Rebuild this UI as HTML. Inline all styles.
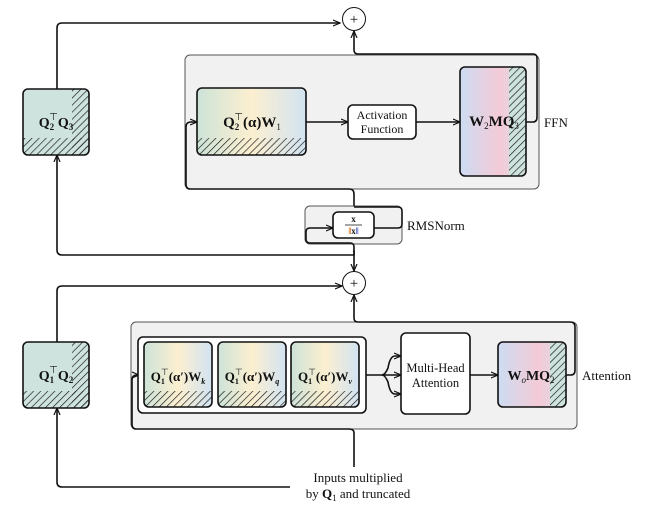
<!DOCTYPE html>
<html><head><meta charset="utf-8"><style>
html,body{margin:0;padding:0;background:#fff;}
svg{display:block;}
text{font-family:"Liberation Serif",serif;fill:#111;}
.b{font-weight:bold;}
</style></head><body>
<svg width="646" height="506" viewBox="0 0 646 506" xmlns="http://www.w3.org/2000/svg">
<defs>
<pattern id="h" patternUnits="userSpaceOnUse" width="5" height="5" patternTransform="rotate(45)">
<rect width="5" height="5" fill="none"/><line x1="0" y1="0" x2="0" y2="5" stroke="#111" stroke-width="1.3"/>
</pattern>
<linearGradient id="g1" x1="0" x2="1" y1="0" y2="0">
<stop offset="0" stop-color="#cde3d8"/><stop offset="0.5" stop-color="#fcefd0"/><stop offset="1" stop-color="#d2e3f2"/>
</linearGradient>
<linearGradient id="g2" x1="0" x2="1" y1="0" y2="0">
<stop offset="0" stop-color="#cddcf2"/><stop offset="0.6" stop-color="#f4cad6"/><stop offset="1" stop-color="#d7dfe6"/>
</linearGradient>
<marker id="a" markerWidth="8" markerHeight="8" refX="7" refY="4" orient="auto" markerUnits="userSpaceOnUse">
<path d="M0,1 L7,4 L0,7" fill="none" stroke="#111" stroke-width="1.2"/>
</marker>
<clipPath id="c1"><rect x="23" y="89" width="66" height="66" rx="5"/></clipPath>
<clipPath id="c2"><rect x="23" y="342" width="66" height="66" rx="5"/></clipPath>
<clipPath id="c3"><rect x="197" y="88" width="109" height="67" rx="5"/></clipPath>
<clipPath id="c4"><rect x="460" y="67" width="66" height="109" rx="5"/></clipPath>
<clipPath id="c5"><rect x="498" y="342" width="68" height="65" rx="5"/></clipPath>
<clipPath id="k1"><rect x="144" y="342" width="68" height="65" rx="5"/></clipPath>
<clipPath id="k2"><rect x="218" y="342" width="68" height="65" rx="5"/></clipPath>
<clipPath id="k3"><rect x="291" y="342" width="68" height="65" rx="5"/></clipPath>
</defs>

<rect x="185" y="55" width="354" height="134" rx="5" fill="#f1f1f1" stroke="#555" stroke-width="1"/>
<rect x="305" y="206" width="97" height="38" rx="5" fill="#f1f1f1" stroke="#555" stroke-width="1"/>
<rect x="131" y="322" width="446" height="107" rx="5" fill="#f1f1f1" stroke="#555" stroke-width="1"/>

<g fill="none" stroke="#111" stroke-width="1.6" stroke-linejoin="round">
<path d="M57,89 V28 Q57,23 62,23 H340" marker-end="url(#a)"/>
<path d="M526,122 H533 Q537,122 537,117 V58 Q537,54 533,54 H358 Q354,54 354,50 V31" marker-end="url(#a)"/>
<path d="M354,206 V194 Q354,189 349,189 H190 Q186,189 186,184 V127 Q186,122 191,122 H197" marker-end="url(#a)"/>
<path d="M354,255 V247 Q354,243 350,243 H310 Q306,243 306,239 V232 Q306,228 310,228 H333" marker-end="url(#a)"/>
<path d="M374,228 H398 Q402,228 402,224 V211 Q402,207 398,207 H354"/>
<path d="M354,250 V255 H62 Q57,255 57,250 V155" marker-end="url(#a)"/>
<path d="M354,255 V271" marker-end="url(#a)"/>
<path d="M57,342 V291 Q57,286 62,286 H342" marker-end="url(#a)"/>
<path d="M566,375 H571 Q575,375 575,370 V327 Q575,322 570,322 H358 Q354,322 354,318 V295" marker-end="url(#a)"/>
<path d="M354,467 V433 Q354,429 349,429 H136 Q132,429 132,424 V380 Q132,375 137,375 H139" marker-end="url(#a)"/>
<path d="M290,487 H62 Q57,487 57,482 V408" marker-end="url(#a)"/>
<path d="M306,122 H348" marker-end="url(#a)"/>
<path d="M416,122 H460" marker-end="url(#a)"/>
<path d="M366,375 H401" marker-end="url(#a)"/>
<path d="M382,375 Q385,375 388,368 Q390,356 395,356 H401" marker-end="url(#a)"/>
<path d="M382,375 Q385,375 388,382 Q390,394 395,394 H401" marker-end="url(#a)"/>
<path d="M470,375 H498" marker-end="url(#a)"/>
</g>

<circle cx="354" cy="19" r="11.5" fill="#fff" stroke="#111" stroke-width="1"/>
<text x="354" y="24" font-size="15" text-anchor="middle">+</text>
<circle cx="354" cy="283" r="11.5" fill="#fff" stroke="#111" stroke-width="1"/>
<text x="354" y="288" font-size="15" text-anchor="middle">+</text>

<g clip-path="url(#c1)">
<rect x="23" y="89" width="66" height="66" fill="#cfe3de"/>
<rect x="72" y="89" width="17" height="66" fill="url(#h)"/>
<rect x="23" y="138" width="66" height="17" fill="url(#h)"/>
</g>
<rect x="23" y="89" width="66" height="66" rx="5" fill="none" stroke="#111" stroke-width="1.6"/>
<text x="56" y="127" font-size="14" text-anchor="middle" class="b">Q<tspan font-size="9" dy="3">2</tspan><tspan font-size="10" dx="-5" dy="-10" font-weight="normal">⊤</tspan><tspan dy="7">Q</tspan><tspan font-size="9" dy="3">3</tspan></text>

<g clip-path="url(#c2)">
<rect x="23" y="342" width="66" height="66" fill="#cfe3de"/>
<rect x="72" y="342" width="17" height="66" fill="url(#h)"/>
<rect x="23" y="391" width="66" height="17" fill="url(#h)"/>
</g>
<rect x="23" y="342" width="66" height="66" rx="5" fill="none" stroke="#111" stroke-width="1.6"/>
<text x="56" y="380" font-size="14" text-anchor="middle" class="b">Q<tspan font-size="9" dy="3">1</tspan><tspan font-size="10" dx="-5" dy="-10" font-weight="normal">⊤</tspan><tspan dy="7">Q</tspan><tspan font-size="9" dy="3">2</tspan></text>

<g clip-path="url(#c3)">
<rect x="197" y="88" width="109" height="67" fill="url(#g1)"/>
<rect x="197" y="138" width="109" height="17" fill="url(#h)"/>
</g>
<rect x="197" y="88" width="109" height="67" rx="5" fill="none" stroke="#111" stroke-width="1.6"/>
<text x="252" y="127" font-size="15" text-anchor="middle" class="b">Q<tspan font-size="9" dy="3">2</tspan><tspan font-size="10" dx="-5" dy="-10" font-weight="normal">⊤</tspan><tspan dy="7">(α)W</tspan><tspan font-size="9" dy="3" font-weight="normal">1</tspan></text>

<rect x="348" y="105" width="68" height="34" rx="5" fill="#fff" stroke="#111" stroke-width="1.6"/>
<text x="382" y="119" font-size="12" text-anchor="middle">Activation</text>
<text x="382" y="133" font-size="12" text-anchor="middle">Function</text>

<g clip-path="url(#c4)">
<rect x="460" y="67" width="66" height="109" fill="url(#g2)"/>
<rect x="509" y="67" width="17" height="109" fill="#cfe3de"/>
<rect x="509" y="67" width="17" height="109" fill="url(#h)"/>
</g>
<rect x="460" y="67" width="66" height="109" rx="5" fill="none" stroke="#111" stroke-width="1.6"/>
<text x="494" y="126" font-size="15" text-anchor="middle" class="b">W<tspan font-size="9" dy="3" font-weight="normal">2</tspan><tspan dy="-3">MQ</tspan><tspan font-size="9" dy="3" font-weight="normal">3</tspan></text>
<text x="544" y="127" font-size="13">FFN</text>

<rect x="333" y="212" width="41" height="26" rx="5" fill="#fff" stroke="#111" stroke-width="1.6"/>
<text x="353.5" y="222" font-size="9" text-anchor="middle" class="b">x</text>
<line x1="345" y1="225" x2="362" y2="225" stroke="#111" stroke-width="0.8"/>
<text x="353.5" y="234" font-size="9" text-anchor="middle" class="b"><tspan fill="#d07020">‖</tspan>x<tspan fill="#4050c0">‖</tspan></text>
<text x="407" y="230" font-size="13">RMSNorm</text>

<rect x="138" y="337" width="228" height="76" rx="5" fill="#fff" stroke="#111" stroke-width="1.6"/>
<g clip-path="url(#k1)"><rect x="144" y="342" width="68" height="65" fill="url(#g1)"/><rect x="144" y="391" width="68" height="16" fill="url(#h)"/></g>
<rect x="144" y="342" width="68" height="65" rx="5" fill="none" stroke="#111" stroke-width="1.6"/>
<g clip-path="url(#k2)"><rect x="218" y="342" width="68" height="65" fill="url(#g1)"/><rect x="218" y="391" width="68" height="16" fill="url(#h)"/></g>
<rect x="218" y="342" width="68" height="65" rx="5" fill="none" stroke="#111" stroke-width="1.6"/>
<g clip-path="url(#k3)"><rect x="291" y="342" width="68" height="65" fill="url(#g1)"/><rect x="291" y="391" width="68" height="16" fill="url(#h)"/></g>
<rect x="291" y="342" width="68" height="65" rx="5" fill="none" stroke="#111" stroke-width="1.6"/>
<text x="178" y="381" font-size="13" text-anchor="middle" class="b">Q<tspan font-size="8" dy="3">1</tspan><tspan font-size="9" dx="-4" dy="-9" font-weight="normal">⊤</tspan><tspan dy="6">(α′)W</tspan><tspan font-size="8" dy="3" font-style="italic">k</tspan></text>
<text x="252" y="381" font-size="13" text-anchor="middle" class="b">Q<tspan font-size="8" dy="3">1</tspan><tspan font-size="9" dx="-4" dy="-9" font-weight="normal">⊤</tspan><tspan dy="6">(α′)W</tspan><tspan font-size="8" dy="3" font-style="italic">q</tspan></text>
<text x="325" y="381" font-size="13" text-anchor="middle" class="b">Q<tspan font-size="8" dy="3">1</tspan><tspan font-size="9" dx="-4" dy="-9" font-weight="normal">⊤</tspan><tspan dy="6">(α′)W</tspan><tspan font-size="8" dy="3" font-style="italic">v</tspan></text>

<rect x="401" y="333" width="69" height="81" rx="5" fill="#fff" stroke="#111" stroke-width="1.6"/>
<text x="435.5" y="372" font-size="12.5" text-anchor="middle">Multi-Head</text>
<text x="435.5" y="387" font-size="12.5" text-anchor="middle">Attention</text>

<g clip-path="url(#c5)">
<rect x="498" y="342" width="68" height="65" fill="url(#g2)"/>
<rect x="550" y="342" width="16" height="65" fill="#cfe3de"/>
<rect x="550" y="342" width="16" height="65" fill="url(#h)"/>
</g>
<rect x="498" y="342" width="68" height="65" rx="5" fill="none" stroke="#111" stroke-width="1.6"/>
<text x="531" y="380" font-size="14" text-anchor="middle" class="b">W<tspan font-size="9" dy="3" font-style="italic" font-weight="normal">o</tspan><tspan dy="-3">MQ</tspan><tspan font-size="9" dy="3" font-weight="normal">2</tspan></text>
<text x="582" y="380" font-size="13">Attention</text>

<text x="358" y="482" font-size="13" text-anchor="middle">Inputs multiplied</text>
<text x="358" y="498" font-size="13" text-anchor="middle">by <tspan class="b">Q</tspan><tspan font-size="9" dy="3">1</tspan><tspan dy="-3"> and truncated</tspan></text>
</svg>
</body></html>
